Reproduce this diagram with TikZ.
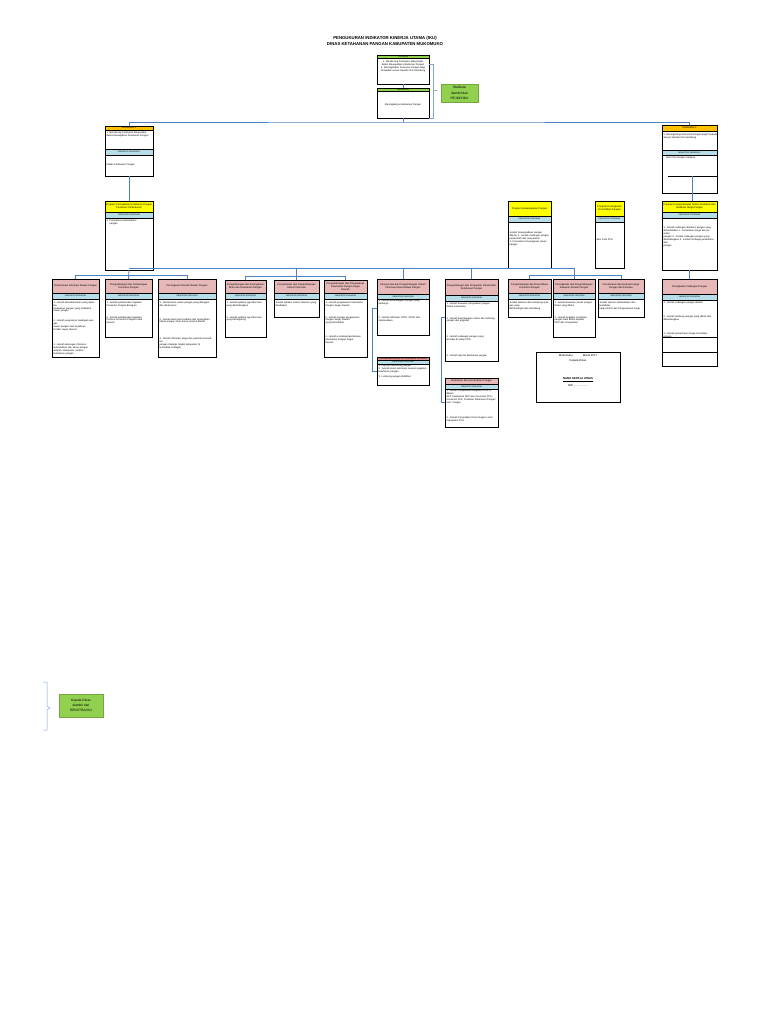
\documentclass[tikz,border=0pt]{standalone}
\usepackage{fontspec}
\setmainfont{Liberation Sans}
\usetikzlibrary{calc}
\definecolor{kgreen}{HTML}{92D050}
\definecolor{korange}{HTML}{FFC000}
\definecolor{kyellow}{HTML}{FFFF00}
\definecolor{kpink}{HTML}{E6B9B8}
\definecolor{kband}{HTML}{B7DEE8}
\definecolor{kline}{HTML}{4F81BD}
\tikzset{
 frame/.style={draw=black, line width=0.9pt, fill=white, inner sep=0pt, outer sep=0pt},
 hdr/.style={draw=black, line width=0.5pt, inner sep=0.3pt, outer sep=0pt, align=center, font=\fontsize{2.5}{3}\selectfont},
 band/.style={draw=black, line width=0.5pt, fill=kband, inner sep=0pt, outer sep=0pt, font=\fontsize{2}{2.4}\selectfont},
 body/.style={inner sep=0pt, outer sep=0pt, align=left, font=\fontsize{2.4}{2.9}\selectfont},
 conn/.style={draw=kline, line width=0.8pt},
 brace/.style={draw=kline!70, line width=0.5pt},
 gbox/.style={draw=kgreen!80!black, line width=0.3pt, fill=kgreen, align=center, inner sep=0pt, font=\fontsize{3.3}{5.5}\selectfont},
 titl/.style={inner sep=0pt, font=\fontsize{4.3}{5}\selectfont\bfseries},
 sig/.style={inner sep=0pt, font=\fontsize{2.8}{3.4}\selectfont},
}
\newcommand\kbox[8]{% name x y w h colour hdrheight hdrtext
 \node[frame, minimum width=#4pt, minimum height=#5pt, anchor=north west] (#1) at (#2,#3) {};
 \node[hdr, fill=#6, minimum width=#4pt, minimum height=#7pt, anchor=north west] (#1h) at (#1.north west) {#8};
}
\newcommand\kband[5]{% name anchorcoord w h text
 \node[band, minimum width=#3pt, minimum height=#4pt, anchor=north west] (#1b) at (#2) {#5};
}
\newcommand\kbody[4]{% name w yoff text
 \pgfmathsetmacro\kbw{#2-3.5}
 \node[body, text width=\kbw pt, anchor=north west] (#1t) at ([xshift=1.5pt,yshift=-#3pt]#1b.south west) {#4};
}
\begin{document}
\begin{tikzpicture}[x=1pt,y=-1pt]
\useasboundingbox[fill=white] (0,0) rectangle (768,1024);

% title
\node[titl] (t1) at (385,38) {PENGUKURAN INDIKATOR KINERJA UTAMA (IKU)};
\node[titl] (t2) at (385,44) {DINAS KETAHANAN PANGAN KABUPATEN MUKOMUKO};

% top boxes
\kbox{top1}{377}{55}{52}{29}{kgreen}{3.5}{TUJUAN}
\node[body, align=center, text width=49pt, anchor=north] (top1t) at (403,61) {1. Mendorong Partisipasi Masyarakat dalam Mewujudkan Ketahanan Pangan \ 2. Meningkatkan Konsumsi Pangan Bagi Penduduk sesuai Standar Gizi Seimbang};
\kbox{top2}{377}{88}{52}{30}{kgreen}{3}{SASARAN}
\node[body] (top2t) at (403,105) {Meningkatnya Ketahanan Pangan};
\draw[conn] (top1.south) -- (top2.north);

\node[gbox, minimum width=37pt, minimum height=18pt] (wali) at (459.5,93) {Walikota\\ diambil dari\\ RPJMD/IKU};
\draw[brace] (429,64) -- (433.5,64) -- (433.5,118) -- (429,118);
\draw[brace] (433.5,90) -- (437,90) coordinate (wtip);

% level 2
\kbox{l2a}{105}{126}{48}{50}{korange}{4}{SASARAN 1}
\node[body, anchor=north west] (l2at) at (106.5,132) {1. Mendorong Partisipasi Masyarakat\\dalam Mewujudkan Ketahanan Pangan};
\kband{l2a}{105,149}{48}{6}{INDIKATOR SASARAN 1}
\node[body, anchor=north west] (l2at2) at (106.5,164) {Indeks Ketahanan Pangan};

\kbox{l2b}{662}{125}{55}{68}{korange}{6}{SASARAN 2}
\node[body, anchor=north west] (l2bt) at (663.5,134) {2. Meningkatnya Konsumsi Pangan Bagi Penduduk\\Sesuai Standar Gizi Seimbang};
\kband{l2b}{662,150}{55}{5}{INDIKATOR SASARAN 2}
\node[body, anchor=north west] (l2bt2) at (666,156.5) {Skor Pola Pangan Harapan};
\draw[line width=0.8pt] (668,176) -- (717,176);
\coordinate (l2bcut) at (692,176);

\draw[conn] (top2.south) -- ++(0,4) coordinate (j0);
\draw[conn] (l2a.north) |- (j0) -| (l2b.north);

% level 3
\kbox{l3a}{105}{201}{48}{69}{kyellow}{11}{Program Peningkatan Ketahanan Pangan\\Pertanian/ Perkebunan}
\kband{l3a}{l3ah.south west}{48}{6}{INDIKATOR PROGRAM}
\kbody{l3a}{48}{1.5}{1. Persentase ketersediaan\\\hspace*{3pt}pangan}

\kbox{l3b}{508}{201}{43}{67}{kyellow}{15}{Program Kewaspadaan Pangan}
\kband{l3b}{l3bh.south west}{43}{6}{INDIKATOR PROGRAM}
\kbody{l3b}{43}{10}{Jumlah Kewaspadaan pangan\\daerah 2. Jumlah cadangan pangan\\pemerintah dan masyarakat\\3. Persentase Penanganan rawan\\pangan}

\kbox{l3c}{595}{201}{29}{67}{kyellow}{15}{Program Peningkatan\\Diversifikasi Pangan}
\kband{l3c}{l3ch.south west}{29}{6}{INDIKATOR PROGRAM}
\kbody{l3c}{29}{17}{Skor Pola PPH}

\kbox{l3d}{662}{201}{55}{69}{kyellow}{11}{Program Pengembangan Sistem Distribusi dan\\Stabilitas Harga Pangan}
\kband{l3d}{l3dh.south west}{55}{6}{INDIKATOR PROGRAM}
\kbody{l3d}{55}{9}{1. Jumlah cadangan distribusi pangan yang\\dimanfaatkan 2. Persentase harga dan pasokan\\pangan 3. Jumlah cadangan pangan yang\\dikembangkan 4. Jumlah lembaga pendistribusian\\pangan}

\draw[conn] (l3a.north) -- (l3a.north |- l2a.south);
\draw[conn] (l2bcut) -- (l2bcut |- l3d.north);

% bottom row
\kbox{b1}{52}{279}{47}{78}{kpink}{14}{Pemantauan Informasi Rawan Pangan}
\kband{b1}{b1h.south west}{47}{6}{INDIKATOR KEGIATAN}
\kbody{b1}{47}{2.5}{1. Jumlah desa/kelurahan yang dipantau\\kerawanan pangan yang terdeteksi\\rawan pangan\\[7pt]2. Jumlah penyaluran cadangan pangan\\rawan pangan saat terjadinya\\kondisi rawan darurat\\[12pt]3. Jumlah dukungan informasi\\ketersediaan dan akses pangan\\wilayah, kabupaten, analisis\\ketahanan pangan}

\kbox{b2}{105}{279}{47}{58}{kpink}{14}{Pengembangan dan Pemantapan\\Konsumsi Pangan}
\kband{b2}{b2h.south west}{47}{6}{INDIKATOR KEGIATAN}
\kbody{b2}{47}{2.5}{1. Jumlah pelaksanaan kegiatan\\Konsumsi Pangan Beragam\\[9pt]2. Jumlah pelaksanaan kegiatan\\Promosi Konsumsi Pangan Lokal\\Daerah}

\kbox{b3}{158}{279}{58}{78}{kpink}{14}{Penanganan Daerah Rawan Pangan}
\kband{b3}{b3h.south west}{58}{6}{INDIKATOR KEGIATAN}
\kbody{b3}{58}{2.5}{1. Jumlah desa rawan pangan yang ditangani\\dan diintervensi\\[11pt]2. Jumlah data hasil produksi dan pengolahan\\bahan pangan lokal sesuai potensi daerah\\[14pt]3. Jumlah informasi harga dan pasokan komoditas\\pangan strategis tingkat kabupaten (5\\komoditas strategis)}

\kbox{b4}{225}{280}{41}{57}{kpink}{13}{Pengembangan dan Peningkatan\\Mutu dan Keamanan Pangan}
\kband{b4}{b4h.south west}{41}{6}{INDIKATOR KEGIATAN}
\kbody{b4}{41}{2.5}{1. Jumlah aplikasi agroinformasi\\yang dikembangkan\\[9pt]2. Jumlah aplikasi agroinformasi\\yang berlangsung}

\kbox{b5}{274}{280}{45}{37}{kpink}{13}{Pemanfaatan dan Pengembangan\\Sistem Informasi}
\kband{b5}{b5h.south west}{45}{6}{INDIKATOR KEGIATAN}
\kbody{b5}{45}{2.5}{Jumlah aplikasi sistem informasi yang\\disediakan}

\kbox{b6}{324}{280}{43}{77}{kpink}{13}{Pengembangan dan Pengawasan\\Keamanan Pangan Segar\\Daerah}
\kband{b6}{b6h.south west}{43}{6}{INDIKATOR KEGIATAN}
\kbody{b6}{43}{2.5}{1. Jumlah pengawasan keamanan\\Pangan Segar Daerah\\[9pt]2. Jumlah sampel pengawasan\\Pangan Segar Daerah\\yang bersertifikat\\[11pt]3. Jumlah sosialisasi/pembinaan\\Keamanan Pangan Segar\\Daerah}

\kbox{b7}{377}{279}{52}{56}{kpink}{15}{Penyusunan dan Pengembangan Sistem\\Informasi Ketersediaan Pangan}
\kband{b7}{b7h.south west}{52}{5}{INDIKATOR KEGIATAN}
\kbody{b7}{52}{1}{1. Jumlah kelembagaan pangan yang berfungsi\\[11pt]2. Jumlah informasi NTPK, SKPG dan\\Ketersediaan}

\kbox{b8}{377}{357}{52}{28}{kpink!80!red}{3.5}{PENGEMBANGAN KETAHANAN PANGAN}
\kband{b8}{b8h.south west}{52}{3.5}{INDIKATOR KEGIATAN}
\kbody{b8}{52}{1}{1. Laporan Monitoring pangan\\2. Jumlah desa/ kelompok sasaran kegiatan\\ketahanan pangan\\[2pt]3. Lumbung pangan BUMDes}

\kbox{b9}{445}{279}{53}{82}{kpink}{16}{Pengembangan dan Penguatan Infrastruktur\\Ketahanan Pangan}
\kband{b9}{b9h.south west}{53}{6}{INDIKATOR KEGIATAN}
\kbody{b9}{53}{1.5}{1. Jumlah kawasan penyediaan pangan\\Dalam Kerjasama\\[9pt]2. Jumlah kelembagaan usaha dan lumbung\\pangan dan kegiatan\\[13pt]3. Jumlah cadangan pangan yang\\tersedia di setiap OPD\\[13pt]4. Jumlah laporan ketahanan pangan}

\kbox{b10}{445}{378}{53}{49}{kpink}{6}{Ketahanan dan Kemandirian Pangan}
\kband{b10}{b10h.south west}{53}{5}{INDIKATOR KEGIATAN}
\kbody{b10}{53}{1}{1. Jumlah Penyusunan Kegiatan PPH, Indikator\\NKP, Ketahanan NKP dan Konsumsi PPH,\\Konsumsi PKK, Penilaian Ketahanan Pangan\\Kab. Pangan\\[12pt]2. Jumlah Penyediaan Data Pangan Lokal\\Kabupaten PPH}

\kbox{b11}{508}{279}{43}{38}{kpink}{14}{Pengembangan dan Diversifikasi\\Konsumsi Pangan}
\kband{b11}{b11h.south west}{43}{6}{INDIKATOR KEGIATAN}
\kbody{b11}{43}{2.5}{Jumlah sebaran dan kampanye pangan yang\\B2SA Bergizi dan Seimbang}

\kbox{b12}{553}{279}{42}{58}{kpink}{14}{Peningkatan dan Pengembangan\\Kawasan Rumah Pangan}
\kband{b12}{b12h.south west}{42}{6}{INDIKATOR KEGIATAN}
\kbody{b12}{42}{2.5}{1. Jumlah kawasan rumah pangan\\lestari yang dibina\\[9pt]2. Jumlah kegiatan sosialisasi\\pangan lokal B2SA kepada\\OPD dan masyarakat}

\kbox{b13}{598}{279}{46}{38}{kpink}{14}{Pemantauan dan Evaluasi Harga\\Pangan dan Pasokan}
\kband{b13}{b13h.south west}{46}{6}{INDIKATOR KEGIATAN}
\kbody{b13}{46}{2.5}{Jumlah laporan ketersediaan dan kestabilan\\harga (5/10) dan Pengumpulan harga}

\kbox{b14}{662}{279}{55}{87}{kpink}{15}{Peningkatan Cadangan Pangan}
\kband{b14}{b14h.south west}{55}{6}{INDIKATOR KEGIATAN}
\kbody{b14}{55}{1.5}{1. Jumlah cadangan pangan daerah\\[11pt]2. Jumlah lumbung pangan yang dibina dan\\dikembangkan\\[12pt]3. Jumlah pemantauan harga komoditas\\pangan}
\draw[line width=0.8pt] (662,337) -- (717,337);
\draw[line width=0.8pt] (662,352) -- (717,352);

% connectors to bottom row
\draw[conn] (l3a.south) -- (b2.north);
\draw[conn] (b1.north) -- ++(0,-4) -| (b3.north);
\coordinate (hub) at (294,268);
\draw[conn] (b4.north) -- ++(0,-4) -| (b6.north);
\draw[conn] (b5.north) -- ++(0,-4) -- (b5.north |- hub);
\draw[conn] (l3a.south |- hub) -- (b12.north |- hub);
\draw[conn] (b7.north) -- (b7.north |- hub);
\draw[conn] (b9.north) -- (b9.north |- hub);
\draw[conn] (b11.north) -- ++(0,-4) -| (b13.north);
\draw[conn] (b12.north) -- (b12.north |- hub);
\draw[conn] (l3d.south) -- (b14.north);
\draw[conn] (b7.west |- 0,308) -- ++(-5,0) |- (b8.west);
\draw[conn] (b9.west |- 0,317) -- ++(-4,0) |- (b10.west);

% signature
\draw[line width=0.4pt] (536,352) rectangle (620,402);
\node[sig] (s1) at (578,356) {Mukomuko, \hspace{8pt} Maret 2017};
\node[sig] (s2) at (578,361) {Kepala Dinas};
\node[sig, font=\fontsize{2.8}{3.4}\selectfont\bfseries] (s3) at (578,380) {\underline{NAMA KEPALA DINAS}};
\node[sig] (s4) at (578,386) {NIP. ..................};

% bottom-left note
\draw[brace] (43,682) -- (47,682) -- (47,706) -- (50,708) -- (47,710) -- (47,730) -- (43,730);
\node[gbox, minimum width=44pt, minimum height=23pt, font=\fontsize{3.3}{5}\selectfont] (kadis) at (81,705.5) {Kepala Dinas\\diambil dari\\RENSTRA/IKU};
\end{tikzpicture}
\end{document}
